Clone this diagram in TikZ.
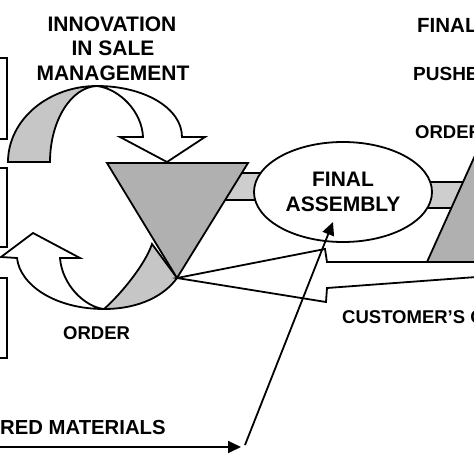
\documentclass[tikz,border=0pt]{standalone}
\usepackage{fontspec}
\setmainfont{Liberation Sans}
\usetikzlibrary{shapes.geometric,arrows.meta}
\definecolor{ribgray}{RGB}{198,198,198}
\definecolor{fungray}{RGB}{176,176,176}
\definecolor{bandgray}{RGB}{206,206,206}
\begin{document}
\begin{tikzpicture}[x=1pt,y=-1pt,
  outl/.style={draw=black, line width=1.8pt, line join=miter},
  tx/.style={font=\bfseries\fontsize{#1}{#1}\selectfont, inner sep=0pt},
  boxnode/.style={draw=black, line width=1.8pt, minimum width=18pt, inner sep=0pt},
  tipA/.style={line width=1.8pt, -{Triangle[length=13pt,width=12pt]}}]
\useasboundingbox (0,0) rectangle (474,474);
\clip (0,0) rectangle (474,474);

% left boxes
\node[boxnode, minimum height=81pt] (box1) at (-2,98.5) {};
\node[boxnode, minimum height=79pt] (box2) at (-2,207.5) {};
\node[boxnode, minimum height=80pt] (box3) at (-2,318) {};

% upper ribbon arrow
\filldraw[fill=ribgray, outl] (8,162) .. controls (8,120) and (48,86) .. (97,86)
  .. controls (71,87) and (50,121) .. (50,162) -- cycle;
\filldraw[fill=white, outl] (97,86) .. controls (144,86) and (182,108) .. (182,137)
  -- (205,137) -- (167,162) -- (120,137) -- (143,137)
  .. controls (142,112) and (120,89) .. (97,86) -- cycle;

% lower ribbon arrow
\filldraw[fill=white, outl] (104,309) .. controls (55,309) and (20,285) .. (17,258)
  -- (1,257) -- (33,233) -- (80,258) -- (60,258)
  .. controls (62,285) and (85,307) .. (104,309) -- cycle;
\filldraw[fill=ribgray, outl] (104,309) .. controls (140,309) and (165,295) .. (177,278)
  -- (152,244) .. controls (145,265) and (120,295) .. (104,309) -- cycle;

% band funnel -> ellipse
\filldraw[fill=bandgray, outl] (220,173) rectangle (280,200);

% funnel
\coordinate (fTL) at (107,163);
\coordinate (fTR) at (248,163);
\coordinate (fTip) at (177,278);
\filldraw[fill=fungray, outl] (fTL) -- (fTR) -- (fTip) -- cycle;

% customer's order arrow
\filldraw[fill=white, outl] (fTip) -- (325,249) -- (327,262) -- (490,262) -- (490,276)
  -- (327,288) -- (326,302) -- cycle;

% band ellipse -> triangle and right triangle
\filldraw[fill=bandgray, outl] (410,182) rectangle (470,208);
\filldraw[fill=fungray, outl] (427,262) -- (500,100) -- (572,262) -- cycle;

% final assembly
\node[ellipse, draw=black, fill=white, line width=1.8pt, minimum width=178pt,
  minimum height=100pt, tx=21, align=center] (asm) at (343,192) {FINAL\\[4pt]ASSEMBLY};

% materials arrows
\coordinate (mL) at (0,447);
\coordinate (mR) at (241,447);
\draw[tipA] (mL) -- (mR);
\coordinate (dS) at (245,445);
\coordinate (dE) at (333,222);
\draw[tipA] (dS) -- (dE);

% texts
\node[tx=21, anchor=base] (t1) at (112,31) {INNOVATION};
\node[tx=21, anchor=base] (t2) at (113,55) {IN SALE};
\node[tx=21, anchor=base] (t3) at (113,80) {MANAGEMENT};
\node[tx=18.5, anchor=base west] (ord1) at (63,339) {ORDER};
\node[tx=20.3, anchor=base west] (mat) at (0,434) {RED MATERIALS};
\node[tx=18.5, anchor=base west] (cus) at (342,323) {CUSTOMER'S ORDER};
\node[tx=20.5, anchor=base west] (fin) at (417,32) {FINAL};
\node[tx=19, anchor=base west] (push) at (413,80) {PUSHED};
\node[tx=18.5, anchor=base west] (ord2) at (415,138) {ORDER};
\end{tikzpicture}
\end{document}
